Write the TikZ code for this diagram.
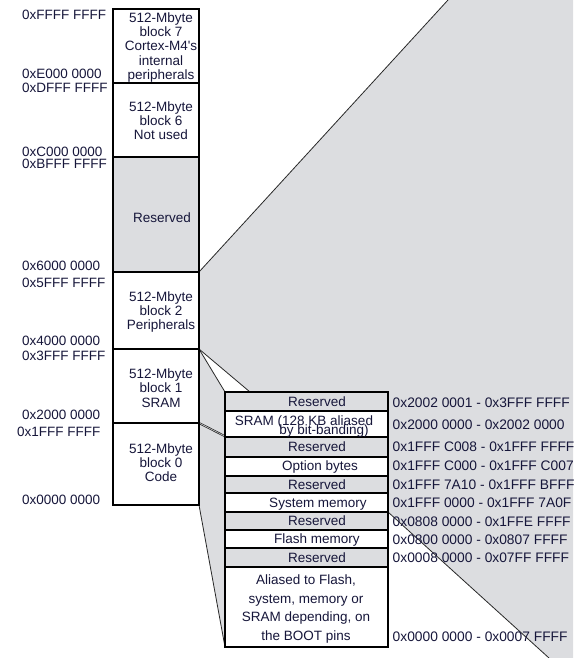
\documentclass[tikz,border=0pt]{standalone}
\usepackage{fontspec}
\setmainfont{Liberation Sans}
\definecolor{memgrey}{RGB}{220,221,224}
\definecolor{txtc}{RGB}{22,22,58}
\definecolor{linec}{RGB}{40,40,40}
\begin{document}
\begin{tikzpicture}[x=1pt,y=-1pt,
  blk/.style={line width=1.8pt, minimum width=86pt, inner sep=0pt, outer sep=0pt, anchor=north west},
  row/.style={line width=1.8pt, minimum width=163pt, inner sep=0pt, outer sep=0pt, anchor=north west},
  wfill/.style={fill=white},
  gfill/.style={fill=memgrey},
  btxt/.style={text=txtc, font=\fontsize{13.5}{14.3}\selectfont, align=center, inner sep=0pt},
  ltxt/.style={text=txtc, font=\fontsize{13.5}{14}\selectfont, anchor=west, inner sep=0pt, text height=9.7pt, text depth=0pt},
  rtxt/.style={text=txtc, font=\fontsize{13.8}{14}\selectfont, anchor=west, inner sep=0pt, text height=9.9pt, text depth=0pt},
  stxt/.style={text=txtc, font=\fontsize{13.5}{14}\selectfont, inner sep=0pt, text height=9.7pt, text depth=0pt},
  conn/.style={draw=linec, line width=0.8pt}
]
\useasboundingbox (0,0) rectangle (576,658);
% named coordinates for free ends
\coordinate (topend) at (448,0);
\coordinate (greytr) at (573,0);
\coordinate (greybr) at (573,658);
\coordinate (botend) at (549,658);
% column blocks (placed now, drawn later)
\path node[blk, minimum height=74pt] (b7) at (113,9) {}
      node[blk, minimum height=74pt] (b6) at (113,83) {}
      node[blk, minimum height=115pt] (res) at (113,157) {}
      node[blk, minimum height=77pt] (b2) at (113,272) {}
      node[blk, minimum height=74pt] (b1) at (113,349) {}
      node[blk, minimum height=82pt] (b0) at (113,423) {};
% sub-rows
\path node[row, minimum height=19pt] (r1) at (225,392) {}
      node[row, minimum height=26pt] (r2) at (225,411) {}
      node[row, minimum height=20pt] (r3) at (225,437) {}
      node[row, minimum height=19pt] (r4) at (225,457) {}
      node[row, minimum height=17pt] (r5) at (225,476) {}
      node[row, minimum height=19pt] (r6) at (225,493) {}
      node[row, minimum height=18pt] (r7) at (225,512) {}
      node[row, minimum height=18pt] (r8) at (225,530) {}
      node[row, minimum height=19pt] (r9) at (225,548) {}
      node[row, minimum height=80pt] (r10) at (225,567) {};
\coordinate (tri2) at ([xshift=25pt]r1.north west);
\coordinate (dbl1) at ([yshift=1.5pt]r2.south west);
\coordinate (dbla) at ([yshift=-0.8pt]b0.north east);
\coordinate (dblb) at ([yshift=0.8pt]b0.north east);
% grey background
\fill[memgrey] (b2.north east) -- (topend) -- (greytr) -- (greybr) -- (botend) -- (r6.south east) -- (r10.south west) -- (b0.south east) -- cycle;
\fill[white] (b1.north east) -- (r1.north west) -- (tri2) -- cycle;
% connectors
\draw[conn] (b2.north east) -- (topend);
\draw[conn] (b1.north east) -- (r1.north west);
\draw[conn] (b1.north east) -- (tri2);
\draw[conn, line width=0.6pt] (dbla) -- (r2.south west);
\draw[conn, line width=0.6pt] (dblb) -- (dbl1);
\draw[conn] (b0.south east) -- (r10.south west);
\draw[conn] (r6.south east) -- (botend);
% boxes on top
\foreach \n/\s in {b7/wfill,b6/wfill,res/gfill,b2/wfill,b1/wfill,b0/wfill}{
  \path[draw=black, line width=1.8pt, \s] (\n.north west) rectangle (\n.south east);
}
\foreach \n/\s in {r1/gfill,r2/wfill,r3/gfill,r4/wfill,r5/gfill,r6/wfill,r7/gfill,r8/wfill,r9/gfill,r10/wfill}{
  \path[draw=black, line width=1.8pt, \s] (\n.north west) rectangle (\n.south east);
}
% block texts
\node[btxt] (t7) at (161,47.5) {512-Mbyte\\block 7\\Cortex-M4\textquotesingle s\\internal\\peripherals};
\node[btxt] (t6) at (161,120.5) {512-Mbyte\\block 6\\Not used};
\node[btxt] (tres) at (162,218) {Reserved};
\node[btxt] (t2) at (161,312) {512-Mbyte\\block 2\\Peripherals};
\node[btxt] (t1) at (161,388) {512-Mbyte\\block 1\\SRAM};
\node[btxt] (t0) at (161,462.5) {512-Mbyte\\block 0\\Code};
% left addresses
\node[ltxt] (a1) at (22,15) {0xFFFF FFFF};
\node[ltxt] (a2) at (22,74) {0xE000 0000};
\node[ltxt] (a3) at (22,87.5) {0xDFFF FFFF};
\node[ltxt] (a4) at (22,151.5) {0xC000 0000};
\node[ltxt] (a5) at (22,163.5) {0xBFFF FFFF};
\node[ltxt] (a6) at (22,266) {0x6000 0000};
\node[ltxt] (a7) at (22,282.5) {0x5FFF FFFF};
\node[ltxt] (a8) at (22,340.5) {0x4000 0000};
\node[ltxt] (a9) at (22,356) {0x3FFF FFFF};
\node[ltxt] (a10) at (22,415) {0x2000 0000};
\node[ltxt] (a11) at (17,431.5) {0x1FFF FFFF};
\node[ltxt] (a12) at (22,499.5) {0x0000 0000};
% sub-row texts
\node[stxt] (s1) at (317,401.5) {Reserved};
\node[stxt] (s2a) at (304,420.5) {SRAM (128 KB aliased};
\node[stxt] (s2b) at (324,429.5) {by bit-banding)};
\node[stxt] (s3) at (317,447) {Reserved};
\node[stxt] (s4) at (320,466) {Option bytes};
\node[stxt] (s5) at (317,484.5) {Reserved};
\node[stxt] (s6) at (318,502.5) {System memory};
\node[stxt] (s7) at (317,521) {Reserved};
\node[stxt] (s8) at (317,539) {Flash memory};
\node[stxt] (s9) at (317,557.5) {Reserved};
\node[btxt, font=\fontsize{13.5}{18.7}\selectfont] (s10) at (306,609) {Aliased to Flash,\\system, memory or\\SRAM depending, on\\the BOOT pins};
% right addresses
\node[rtxt] (c1) at (392.5,402.3) {0x2002 0001 - 0x3FFF FFFF};
\node[rtxt] (c2) at (392.5,425) {0x2000 0000 - 0x2002 0000};
\node[rtxt] (c3) at (392.5,446.7) {0x1FFF C008 - 0x1FFF FFFF};
\node[rtxt] (c4) at (392.5,466) {0x1FFF C000 - 0x1FFF C007};
\node[rtxt] (c5) at (392.5,484.5) {0x1FFF 7A10 - 0x1FFF BFFF};
\node[rtxt] (c6) at (392.5,503) {0x1FFF 0000 - 0x1FFF 7A0F};
\node[rtxt] (c7) at (392.5,521.7) {0x0808 0000 - 0x1FFE FFFF};
\node[rtxt] (c8) at (392.5,540) {0x0800 0000 - 0x0807 FFFF};
\node[rtxt] (c9) at (392.5,557.7) {0x0008 0000 - 0x07FF FFFF};
\node[rtxt] (c10) at (392.5,636.5) {0x0000 0000 - 0x0007 FFFF};
\end{tikzpicture}
\end{document}
